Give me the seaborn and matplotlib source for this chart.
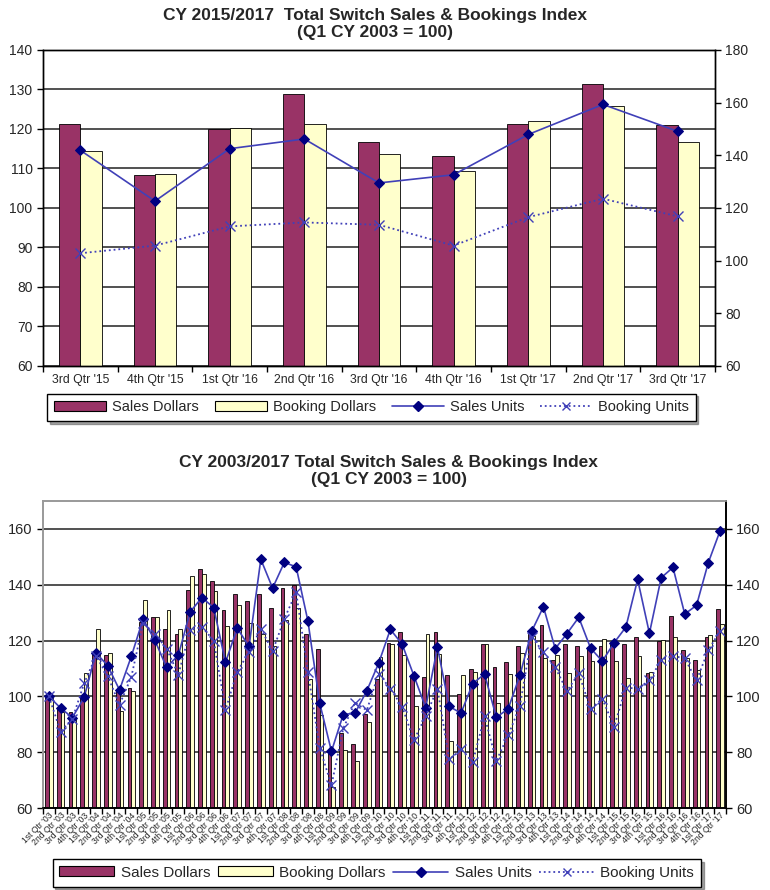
import numpy as np
import pandas as pd
import matplotlib
matplotlib.use("Agg")
import matplotlib.pyplot as plt
from matplotlib.patches import Patch
from matplotlib.lines import Line2D
import seaborn as sns

# ---- top panel: last nine quarters ----
top_quarters = ["3rd Qtr '15", "4th Qtr '15", "1st Qtr '16", "2nd Qtr '16", "3rd Qtr '16",
                "4th Qtr '16", "1st Qtr '17", "2nd Qtr '17", "3rd Qtr '17"]
top_sales_dollars = [121.2, 108.3, 120.0, 128.8, 116.7, 113.2, 121.2, 131.4, 120.9]
top_booking_dollars = [114.3, 108.7, 120.2, 121.2, 113.6, 109.3, 121.9, 125.9, 116.7]
top_sales_units = [141.9, 122.6, 142.5, 146.2, 129.5, 132.6, 147.9, 159.3, 149.1]
top_booking_units = [102.8, 105.7, 113.0, 114.5, 113.6, 105.7, 116.5, 123.5, 116.8]

# ---- bottom panel: 1st Qtr '03 .. 2nd Qtr '17 ----
ordinals = ["1st", "2nd", "3rd", "4th"]
years = ["03", "04", "05", "06", "07", "08", "09", "10", "11", "12", "13", "14", "15", "16", "17"]
all_quarters = [f"{q} Qtr '{y}" for y in years for q in ordinals][:58]

all_sales_dollars = [100.0, 96.3, 94.4, 100.1, 115.6, 114.7, 102.4, 102.9,
                     126.8, 128.3, 124.0, 122.5, 138.0, 145.6, 141.5, 130.9,
                     136.8, 134.3, 136.8, 131.6, 139.0, 139.8, 122.5, 117.0,
                     80.7, 87.0, 83.0, 93.8, 106.4, 119.3, 123.1, 106.8,
                     106.8, 122.9, 107.5, 101.0, 109.9, 118.7, 110.7, 112.3,
                     118.0, 123.4, 125.6, 112.9, 118.9, 118.0, 117.6, 118.0,
                     118.6, 118.7, 121.2, 108.3, 120.0, 128.8, 116.7, 113.2,
                     121.2, 131.4]
all_booking_dollars = [99.5, 94.4, 92.7, 108.4, 124.0, 115.6, 94.8, 101.9,
                       134.7, 128.6, 131.0, 124.0, 143.1, 143.7, 137.8, 125.1,
                       132.6, 126.3, 122.3, 118.2, 127.3, 131.5, 106.4, 93.2,
                       67.5, 80.9, 76.8, 90.8, 114.2, 118.8, 114.8, 96.5,
                       122.4, 115.1, 84.1, 107.7, 108.6, 118.6, 97.7, 108.1,
                       115.7, 121.6, 113.8, 114.7, 108.4, 114.5, 112.6, 120.6,
                       112.6, 106.6, 114.3, 108.7, 120.2, 121.2, 113.6, 109.3,
                       121.9, 125.9]
all_sales_units = [100.0, 95.8, 92.4, 99.7, 115.6, 111.0, 102.3, 114.3,
                   127.7, 120.1, 110.4, 114.8, 130.3, 135.4, 131.8, 112.2,
                   124.4, 117.9, 149.1, 138.8, 148.0, 146.4, 127.0, 97.6,
                   80.3, 93.5, 94.0, 102.0, 111.8, 124.0, 118.7, 107.4,
                   96.0, 117.6, 96.4, 94.0, 104.6, 108.0, 92.5, 95.5,
                   107.5, 123.3, 132.1, 117.1, 122.5, 128.3, 117.3, 112.6,
                   119.2, 124.8, 141.9, 122.6, 142.5, 146.2, 129.5, 132.6,
                   147.9, 159.3]
all_booking_units = [100.0, 87.4, 92.0, 104.7, 114.5, 107.3, 97.0, 106.9,
                     126.2, 122.5, 117.1, 107.8, 123.7, 124.9, 120.0, 95.2,
                     108.9, 115.8, 124.3, 116.2, 127.8, 137.3, 108.9, 81.6,
                     68.2, 88.5, 97.8, 95.0, 108.1, 102.8, 96.3, 84.3,
                     92.9, 102.8, 77.4, 81.0, 76.5, 92.8, 76.9, 86.0,
                     96.5, 121.2, 115.9, 110.4, 101.9, 108.3, 95.4, 99.2,
                     89.1, 103.1, 102.8, 105.7, 113.0, 114.5, 113.6, 105.7,
                     116.5, 123.5]

SALES_RED = "#993366"
BOOK_YELLOW = "#FFFFCC"
LINE_BLUE = "#4040B8"
MARK_NAVY = "#000080"

sns.set_theme(style="white")
plt.rcParams["font.family"] = ["Liberation Sans", "DejaVu Sans"]


def draw_panel(ax, quarters, sales_d, book_d, sales_u, book_u, bar_width, msize):
    n = len(quarters)
    bars = pd.DataFrame({
        "Quarter": quarters + quarters,
        "Series": ["Sales Dollars"] * n + ["Booking Dollars"] * n,
        "Index": sales_d + book_d,
    })
    sns.barplot(data=bars, x="Quarter", y="Index", hue="Series",
                palette=[SALES_RED, BOOK_YELLOW], saturation=1, width=bar_width,
                errorbar=None, edgecolor="black", linewidth=0.6, legend=False, ax=ax)
    ax.set_axisbelow(True)
    ax.yaxis.grid(True, color="#222222", linewidth=1.1)
    ax.set_xlabel("")
    ax.set_ylabel("")

    ax2 = ax.twinx()
    xs = np.arange(n)
    sns.lineplot(x=xs, y=sales_u, ax=ax2, color=LINE_BLUE, linewidth=1.2,
                 marker="D", markersize=msize, markerfacecolor=MARK_NAVY,
                 markeredgecolor=MARK_NAVY)
    sns.lineplot(x=xs, y=book_u, ax=ax2, color=LINE_BLUE, linewidth=1.3,
                 linestyle=":", marker="x", markersize=msize + 1,
                 markeredgecolor=LINE_BLUE, markeredgewidth=1.0)
    ax2.grid(False)
    ax2.set_ylabel("")
    ax.set_xlim(-0.5, n - 0.5)

    ax.set_xticks(np.arange(-0.5, n, 1), minor=True)
    ax.tick_params(axis="x", which="major", length=0)
    ax.tick_params(axis="x", which="minor", length=4, width=1, color="black",
                   direction="out", bottom=True)
    ax.tick_params(axis="y", length=4, width=1, color="black", direction="out", left=True)
    ax2.tick_params(axis="y", length=4, width=1, color="black", direction="out", right=True)
    return ax2


def add_legend(fig, box, fsize):
    handles = [
        Patch(facecolor=SALES_RED, edgecolor="black", linewidth=0.8, label="Sales Dollars"),
        Patch(facecolor=BOOK_YELLOW, edgecolor="black", linewidth=0.8, label="Booking Dollars"),
        Line2D([], [], color=LINE_BLUE, linewidth=1.2, marker="D", markersize=5,
               markerfacecolor=MARK_NAVY, markeredgecolor=MARK_NAVY, label="Sales Units"),
        Line2D([], [], color=LINE_BLUE, linewidth=1.3, linestyle=":", marker="x",
               markersize=6, markeredgecolor=LINE_BLUE, label="Booking Units"),
    ]
    leg = fig.legend(handles=handles, loc="center", bbox_to_anchor=box, mode="expand",
                     ncol=4, frameon=True, fancybox=False, shadow=True,
                     fontsize=fsize, handlelength=3.6, handleheight=0.6,
                     borderpad=0.45, handletextpad=0.4)
    leg.get_frame().set_edgecolor("black")
    leg.get_frame().set_linewidth(1.0)


fig = plt.figure(figsize=(7.7, 8.9), dpi=100)
fig.patch.set_facecolor("white")

# ---- top chart ----
ax_top = fig.add_axes([0.0558, 0.5888, 0.8727, 0.3551])
ax_top2 = draw_panel(ax_top, top_quarters, top_sales_dollars, top_booking_dollars,
                     top_sales_units, top_booking_units, bar_width=0.572, msize=5.5)
ax_top.set_ylim(60, 140)
ax_top.set_yticks(np.arange(60, 141, 10))
ax_top2.set_ylim(60, 180)
ax_top2.set_yticks(np.arange(60, 181, 20))
ax_top.tick_params(axis="x", labelsize=8.8, pad=6)
ax_top.tick_params(axis="y", labelsize=10)
ax_top2.tick_params(axis="y", labelsize=10)
for a in (ax_top, ax_top2):
    for s in a.spines.values():
        s.set_color("black")
        s.set_linewidth(1.0)

fig.text(0.487, 0.973, "CY 2015/2017  Total Switch Sales & Bookings Index\n(Q1 CY 2003 = 100)",
         ha="center", va="center", fontsize=12.5, fontweight="bold", linespacing=1.1)
add_legend(fig, (0.052, 0.526, 0.861, 0.033), 10.5)

# ---- bottom chart ----
ax_bot = fig.add_axes([0.0558, 0.0921, 0.887, 0.345])
ax_bot2 = draw_panel(ax_bot, all_quarters, all_sales_dollars, all_booking_dollars,
                     all_sales_units, all_booking_units, bar_width=0.64, msize=5.5)
ax_bot.set_ylim(60, 170)
ax_bot.set_yticks(np.arange(60, 161, 20))
ax_bot2.set_ylim(60, 170)
ax_bot2.set_yticks(np.arange(60, 161, 20))
ax_bot.tick_params(axis="y", labelsize=10.5)
ax_bot2.tick_params(axis="y", labelsize=10.5)
ax_bot.tick_params(axis="x", labelsize=6.2, pad=2)
plt.setp(ax_bot.get_xticklabels(), rotation=45, ha="right", va="top", rotation_mode="anchor")
for a in (ax_bot, ax_bot2):
    a.spines["top"].set_color("#999999")
    a.spines["left"].set_color("#999999")
    a.spines["right"].set_color("black")
    a.spines["bottom"].set_color("black")
    for s in a.spines.values():
        s.set_linewidth(1.2)

fig.text(0.505, 0.4708, "CY 2003/2017 Total Switch Sales & Bookings Index\n(Q1 CY 2003 = 100)",
         ha="center", va="center", fontsize=12.5, fontweight="bold", linespacing=1.1)
add_legend(fig, (0.0584, 0.0045, 0.862, 0.030), 11)

fig.savefig("out.png", dpi=100, facecolor="white")
